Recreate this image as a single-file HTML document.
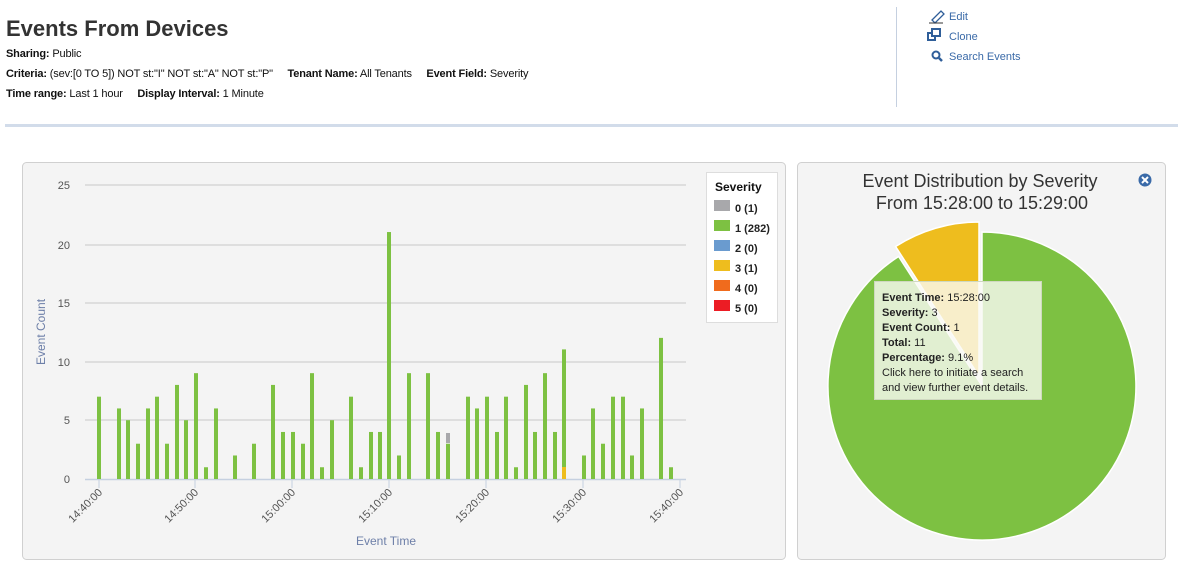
<!DOCTYPE html>
<html><head><meta charset="utf-8"><style>
body{margin:0;width:1178px;height:584px;background:#fff;font-family:"Liberation Sans",Arial,sans-serif;position:relative;overflow:hidden;color:#222}
.a{position:absolute}
h1{position:absolute;left:6px;top:16px;margin:0;font-size:22px;font-weight:bold;color:#333}
.m{position:absolute;left:6px;font-size:11px;color:#111;white-space:pre;letter-spacing:-0.15px}
.m b{font-weight:bold}
.lnk{position:absolute;left:949px;font-size:11px;color:#3a6aa8}
</style></head><body>
<h1>Events From Devices</h1>
<div class="m" style="top:48px"><b>Sharing:</b> Public</div>
<div class="m" style="top:68px"><b>Criteria:</b> (sev:[0 TO 5]) NOT st:"I" NOT st:"A" NOT st:"P"     <b>Tenant Name:</b> All Tenants     <b>Event Field:</b> Severity</div>
<div class="m" style="top:88px"><b>Time range:</b> Last 1 hour     <b>Display Interval:</b> 1 Minute</div>
<div class="a" style="left:896px;top:7px;width:1px;height:100px;background:#c5d0e0"></div>
<div class="lnk" style="top:11px">Edit</div>
<div class="lnk" style="top:31px">Clone</div>
<div class="lnk" style="top:51px">Search Events</div>
<svg class="a" style="left:0;top:0" width="1178" height="584">
<g stroke="#2f5e99" fill="none" stroke-width="2">
<path d="M932 20 L941 11 L944 14 L935 23 Z" stroke-width="1.3"/><line x1="929" y1="23" x2="943" y2="23" stroke="#333" stroke-width="1"/>
<rect x="928" y="33" width="7" height="7"/><rect x="932" y="29" width="8" height="7" fill="#fff"/>
<circle cx="936" cy="55" r="3.5"/><line x1="939" y1="58" x2="942" y2="61" stroke-width="2.5"/>
</g>
<rect x="5" y="124" width="1173" height="3" fill="#d2dcea"/>
<rect x="22.5" y="162.5" width="763" height="397" rx="4" fill="#f4f4f4" stroke="#d0d0d0"/>
<rect x="797.5" y="162.5" width="368" height="397" rx="4" fill="#f4f4f4" stroke="#d0d0d0"/>
<g stroke="#d6d6d6" stroke-width="1.5">
<line x1="85" y1="185" x2="686" y2="185"/><line x1="85" y1="245" x2="686" y2="245"/><line x1="85" y1="303" x2="686" y2="303"/><line x1="85" y1="362" x2="686" y2="362"/><line x1="85" y1="420" x2="686" y2="420"/>
</g>
<line x1="85" y1="479.5" x2="686" y2="479.5" stroke="#c5d0e0" stroke-width="1.5"/>
<g stroke="#c5d0e0"><line x1="99" y1="480" x2="99" y2="488"/><line x1="195" y1="480" x2="195" y2="488"/><line x1="292" y1="480" x2="292" y2="488"/><line x1="389" y1="480" x2="389" y2="488"/><line x1="486" y1="480" x2="486" y2="488"/><line x1="583" y1="480" x2="583" y2="488"/><line x1="680" y1="480" x2="680" y2="488"/></g>
<g font-size="11" fill="#555" text-anchor="end">
<text x="70" y="189">25</text><text x="70" y="249">20</text><text x="70" y="307">15</text><text x="70" y="366">10</text><text x="70" y="424">5</text><text x="70" y="483">0</text>
</g>
<g font-size="11" fill="#555" text-anchor="end">
<text transform="translate(103,493) rotate(-45)">14:40:00</text>
<text transform="translate(199,493) rotate(-45)">14:50:00</text>
<text transform="translate(296,493) rotate(-45)">15:00:00</text>
<text transform="translate(393,493) rotate(-45)">15:10:00</text>
<text transform="translate(490,493) rotate(-45)">15:20:00</text>
<text transform="translate(587,493) rotate(-45)">15:30:00</text>
<text transform="translate(684,493) rotate(-45)">15:40:00</text>
</g>
<text x="386" y="545" font-size="12" fill="#6d7fa8" text-anchor="middle">Event Time</text>
<text transform="translate(45,332) rotate(-90)" font-size="12" fill="#6d7fa8" text-anchor="middle">Event Count</text>
<g fill="#7dc142" id="bars"></g>
<rect x="446" y="433" width="4" height="10" fill="#a8a8ab"/>
<rect x="562" y="467" width="4" height="12" fill="#eebd1e"/>
<rect x="706.5" y="172.5" width="71" height="150" fill="#fff" stroke="#ddd"/>
<text x="715" y="191" font-size="12" font-weight="bold" fill="#111">Severity</text>
<g font-size="11" font-weight="bold" fill="#222">
<rect x="714" y="200" width="16" height="11" fill="#a8a8ab"/><text x="735" y="212">0 (1)</text>
<rect x="714" y="220" width="16" height="11" fill="#7dc142"/><text x="735" y="232">1 (282)</text>
<rect x="714" y="240" width="16" height="11" fill="#6a9bcf"/><text x="735" y="252">2 (0)</text>
<rect x="714" y="260" width="16" height="11" fill="#eebd1e"/><text x="735" y="272">3 (1)</text>
<rect x="714" y="280" width="16" height="11" fill="#f06b1d"/><text x="735" y="292">4 (0)</text>
<rect x="714" y="300" width="16" height="11" fill="#ec1c24"/><text x="735" y="312">5 (0)</text>
</g>
<text x="980" y="187" font-size="18" fill="#333" text-anchor="middle">Event Distribution by Severity</text>
<text x="982" y="209" font-size="18" fill="#333" text-anchor="middle">From 15:28:00 to 15:29:00</text>
<circle cx="1145" cy="180" r="6.5" fill="#3a6aa8"/><path d="M1142 177 L1148 183 M1148 177 L1142 183" stroke="#fff" stroke-width="2"/>
<path d="M982 386 L982 232 A154 154 0 1 1 898.6 256.5 Z" fill="#7dc142" stroke="#fff" stroke-width="1.5"/>
<path d="M979 376 L979 222 A154 154 0 0 0 895.6 246.5 Z" fill="#eebd1e" stroke="#fff" stroke-width="1.5"/>
<rect x="874.5" y="281.5" width="167" height="118" fill="rgba(250,250,245,0.8)" stroke="#cfd8c0"/>
<g font-size="11" fill="#222">
<text x="882" y="301"><tspan font-weight="bold">Event Time:</tspan> 15:28:00</text>
<text x="882" y="316"><tspan font-weight="bold">Severity:</tspan> 3</text>
<text x="882" y="331"><tspan font-weight="bold">Event Count:</tspan> 1</text>
<text x="882" y="346"><tspan font-weight="bold">Total:</tspan> 11</text>
<text x="882" y="361"><tspan font-weight="bold">Percentage:</tspan> 9.1%</text>
<text x="882" y="376">Click here to initiate a search</text>
<text x="882" y="391">and view further event details.</text>
</g>
</svg>
<script>
var d=[[99,7],[119,6],[128,5],[138,3],[148,6],[157,7],[167,3],[177,8],[186,5],[196,9],[206,1],[216,6],[235,2],[254,3],[273,8],[283,4],[293,4],[303,3],[312,9],[322,1],[332,5],[351,7],[361,1],[371,4],[380,4],[389,21],[399,2],[409,9],[428,9],[438,4],[448,3],[468,7],[477,6],[487,7],[497,4],[506,7],[516,1],[526,8],[535,4],[545,9],[555,4],[564,10],[584,2],[593,6],[603,3],[613,7],[623,7],[632,2],[642,6],[661,12],[671,1]];
var g=document.getElementById('bars'),s='';
d.forEach(function(b){var y0=479;if(b[0]==564)y0=467;var h=b[1]*11.76;s+='<rect x="'+(b[0]-2)+'" y="'+(y0-h)+'" width="4" height="'+h+'"/>';});
g.innerHTML=s;
</script>
</body></html>
